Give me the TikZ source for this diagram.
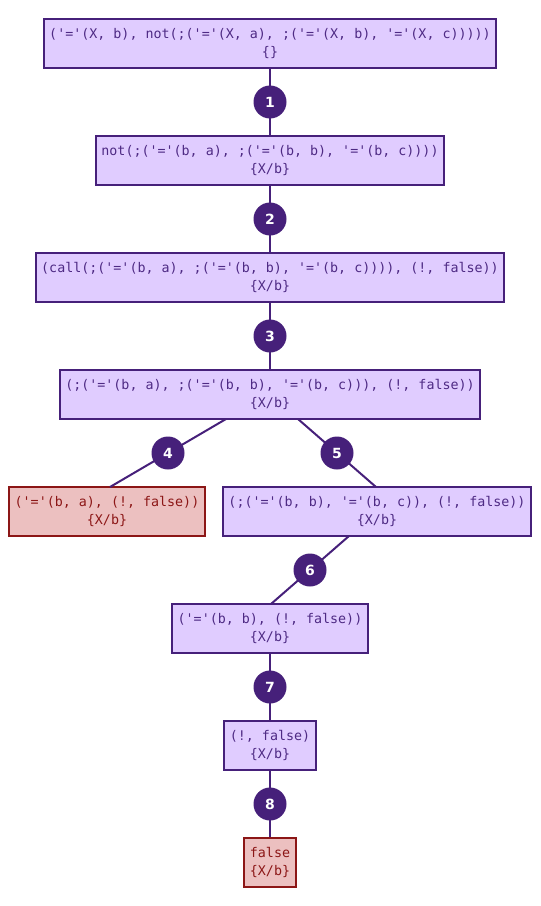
\documentclass[tikz,border=0pt]{standalone}
\usepackage{fontspec}
\setmonofont{DejaVu Sans Mono}
\newfontfamily\numfont{DejaVu Sans}
\definecolor{pfill}{RGB}{224,204,255}
\definecolor{pline}{RGB}{70,32,122}
\definecolor{ptext}{RGB}{78,42,132}
\definecolor{rfill}{RGB}{236,192,192}
\definecolor{rline}{RGB}{140,22,22}
\definecolor{rtext}{RGB}{140,22,22}
\tikzset{
  goal/.style={draw=pline, fill=pfill, text=ptext, line width=1.5pt, rectangle, inner sep=0pt,
    minimum height=49*0.75pt, align=center, font=\ttfamily\fontsize{10}{14}\selectfont},
  fail/.style={goal, draw=rline, fill=rfill, text=rtext},
  stepnum/.style={circle, fill=pline, text=white, inner sep=0pt, minimum size=33*0.75pt,
    font=\numfont\bfseries\fontsize{10.5}{12}\selectfont},
  edge/.style={draw=pline, line width=1.5pt}
}
\begin{document}
\begin{tikzpicture}[x=0.75pt,y=-0.75pt]
\useasboundingbox (0,0) rectangle (540,906);
\node[goal, minimum width=452*0.75pt] (b1) at (270,43.5) {('='(X, b), not(;('='(X, a), ;('='(X, b), '='(X, c)))))\\\{\}};
\node[goal, minimum width=348*0.75pt] (b2) at (270,160.5) {not(;('='(b, a), ;('='(b, b), '='(b, c))))\\\{X/b\}};
\node[goal, minimum width=468*0.75pt] (b3) at (270,277.5) {(call(;('='(b, a), ;('='(b, b), '='(b, c)))), (!, false))\\\{X/b\}};
\node[goal, minimum width=420*0.75pt] (b4) at (270,394.5) {(;('='(b, a), ;('='(b, b), '='(b, c))), (!, false))\\\{X/b\}};
\node[fail, minimum width=196*0.75pt] (b5) at (107,511.5) {('='(b, a), (!, false))\\\{X/b\}};
\node[goal, minimum width=308*0.75pt] (b6) at (377,511.5) {(;('='(b, b), '='(b, c)), (!, false))\\\{X/b\}};
\node[goal, minimum width=196*0.75pt] (b7) at (270,628.5) {('='(b, b), (!, false))\\\{X/b\}};
\node[goal, minimum width=92*0.75pt] (b8) at (270,745.5) {(!, false)\\\{X/b\}};
\node[fail, minimum width=52*0.75pt] (b9) at (270,862.5) {false\\\{X/b\}};

\coordinate (p4) at (226,419);
\coordinate (q4) at (110,487);
\coordinate (p5) at (298,419);
\coordinate (q5) at (376,487);
\coordinate (p6) at (349,536);
\coordinate (q6) at (271,604);

\draw[edge] (b1.south) -- (b2.north);
\draw[edge] (b2.south) -- (b3.north);
\draw[edge] (b3.south) -- (b4.north);
\draw[edge] (p4) -- (q4);
\draw[edge] (p5) -- (q5);
\draw[edge] (p6) -- (q6);
\draw[edge] (b7.south) -- (b8.north);
\draw[edge] (b8.south) -- (b9.north);

\node[stepnum] (c1) at (270,102) {1};
\node[stepnum] (c2) at (270,219) {2};
\node[stepnum] (c3) at (270,336) {3};
\node[stepnum] (c4) at (168,453) {4};
\node[stepnum] (c5) at (337,453) {5};
\node[stepnum] (c6) at (310,570) {6};
\node[stepnum] (c7) at (270,687) {7};
\node[stepnum] (c8) at (270,804) {8};
\end{tikzpicture}
\end{document}
